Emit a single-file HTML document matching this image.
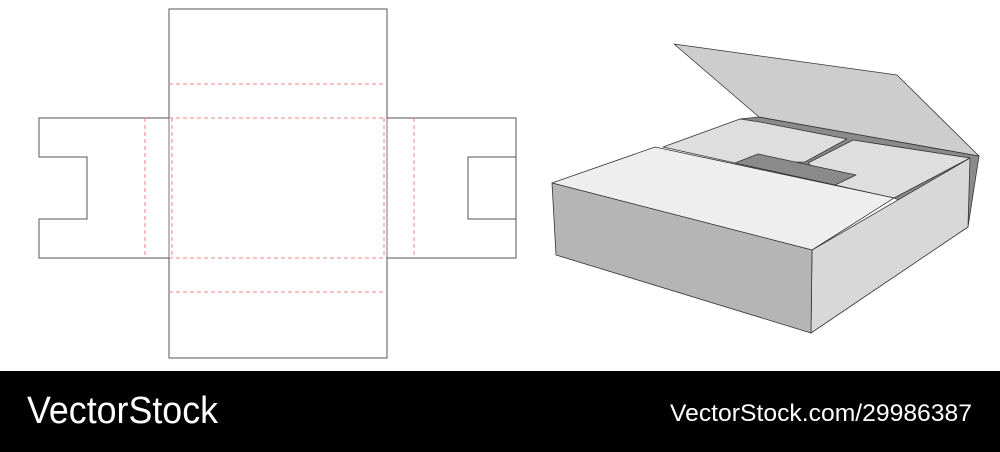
<!DOCTYPE html>
<html><head><style>html,body{margin:0;padding:0;background:#fff;width:1000px;height:452px;overflow:hidden}</style></head>
<body>
<svg width="1000" height="452" viewBox="0 0 1000 452" xmlns="http://www.w3.org/2000/svg">
<g fill="none" stroke="#555" stroke-width="1">
<path d="M169,118 V9 H387 V118 H516 V258 H387 V358 H169 V258 H39 V219 H87 V157 H39 V118 Z"/>
<path d="M387,118 V258 M169,118 V258" stroke="#777"/>
<path d="M516,118 V157 H468 V219 H516" />
</g>
<g fill="none" stroke="#f08080" stroke-width="1" stroke-dasharray="4,3">
<path d="M169,84 H387 M169,118 H387 M169,258 H387 M169,292 H387"/>
<path d="M145,118 V258 M172,118 V258 M384,118 V258 M414,118 V258"/>
</g>
<g stroke="#333" stroke-width="0.8" stroke-linejoin="round">
<polygon points="740,119 759,117 979,156 968,227 894,198 735,163" fill="#8a8a8a"/>
<polygon points="674,44 897,75 979,156 759,117" fill="#cdcdcd"/>
<polygon points="663,147 740,119 760,122 847,139 805,162 735,163" fill="#dedede"/>
<polygon points="808,163 853,140 970,158 894,198 835,185" fill="#dedede"/>
<polygon points="735,163 758,154 856,175 835,185" fill="#8a8a8a"/>
<polygon points="812,250 970,158 968,227 811,333" fill="#d8d8d8"/>
<polygon points="552,183 655,147 894,198 812,250" fill="#eeeeee"/>
<polygon points="552,183 812,250 811,333 556,255" fill="#b5b5b5"/>
</g>
<rect x="0" y="371" width="1000" height="81" fill="#000"/>
<text x="27" y="423" font-family="Liberation Sans, sans-serif" font-size="38" fill="#fff" textLength="191" lengthAdjust="spacingAndGlyphs">VectorStock</text>
<text x="670" y="421" font-family="Liberation Sans, sans-serif" font-size="24" fill="#fff" textLength="302" lengthAdjust="spacingAndGlyphs">VectorStock.com/29986387</text>
</svg>
</body></html>
